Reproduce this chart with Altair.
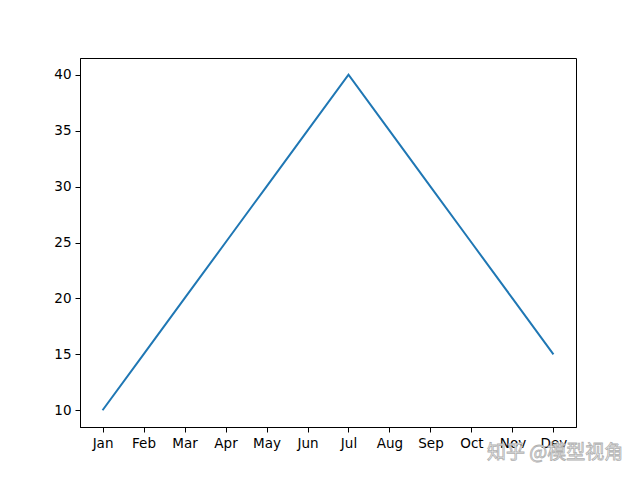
import altair as alt
import pandas as pd

months = ["Jan", "Feb", "Mar", "Apr", "May", "Jun", "Jul", "Aug", "Sep", "Oct", "Nov", "Dev"]
values = [10, 15, 20, 25, 30, 35, 40, 35, 30, 25, 20, 15]

df = pd.DataFrame({"idx": list(range(len(months))), "month": months, "value": values})

label_expr = "[" + ",".join(f"'{m}'" for m in months) + "][datum.value]"

W, H = 496, 369

line = alt.Chart(df).mark_line(color="#1f77b4", strokeWidth=2, clip=True).encode(
    x=alt.X("idx:Q",
            scale=alt.Scale(domain=[-0.55, 11.55], nice=False, zero=False),
            axis=alt.Axis(values=list(range(12)), labelExpr=label_expr, title=None,
                          grid=False, domainColor="black", tickColor="black",
                          tickSize=5, labelFontSize=13.5, labelColor="black",
                          labelPadding=4, labelFont="DejaVu Sans")),
    y=alt.Y("value:Q",
            scale=alt.Scale(domain=[8.5, 41.5], nice=False, zero=False),
            axis=alt.Axis(values=[10, 15, 20, 25, 30, 35, 40], title=None,
                          grid=False, domainColor="black", tickColor="black",
                          tickSize=5, labelFontSize=13.5, labelColor="black",
                          labelPadding=4, labelFont="DejaVu Sans")),
)

watermark = alt.Chart(pd.DataFrame({"t": ["知乎 @模型视角"]})).mark_text(
    font="Noto Sans CJK SC", fontSize=19, color="#f4f4f4", stroke="#b0b0b0",
    strokeWidth=0.8, align="left", baseline="middle", clip=False
).encode(
    x=alt.value(407), y=alt.value(395), text="t:N"
)

chart = (line + watermark).properties(
    width=W, height=H,
    autosize=alt.AutoSizeParams(type="none"),
    padding={"left": 72, "top": 50, "right": 56, "bottom": 45},
).configure(background="white").configure_view(stroke="black", strokeWidth=1)

chart.save("out.html", embed_options={"renderer": "svg", "actions": False})
